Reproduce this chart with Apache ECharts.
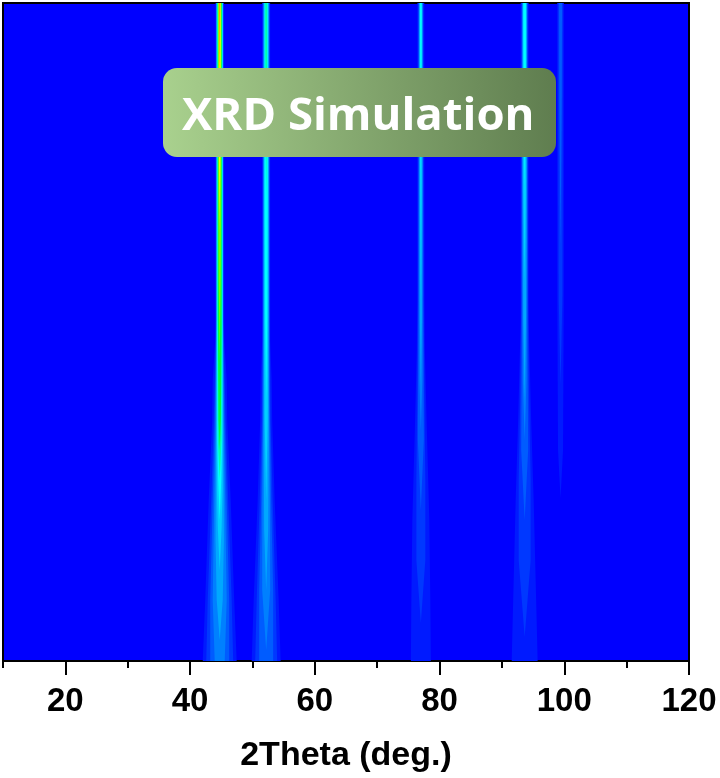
<!DOCTYPE html>
<html>
<head>
<meta charset="utf-8">
<title>XRD Simulation</title>
<style>
  html, body { margin: 0; padding: 0; background: #fff; }
  #main { width: 720px; height: 778px; }
</style>
<script src="https://cdn.jsdelivr.net/npm/echarts@6/dist/echarts.min.js"></script>
</head>
<body>
<div id="main"></div>
<script>
// x axis ticks, 2theta in degrees
var tickValues = ['10', '20', '30', '40', '50', '60', '70', '80', '90', '100', '110', '120'];

// peak positions
var peakCenters = [44.75, 52.2, 77.0, 93.65, 99.4];

// intensity of each contour level, faint to strong
var levels = [0.025, 0.055, 0.09, 0.125, 0.165, 0.205, 0.25, 0.33, 0.44, 0.62, 0.75, 0.87];

// one list per level: [scan row, half width of the contour in deg]
var peak1 = [
    [[0, 2.72], [61, 2.32], [161, 1.76], [241, 1.2], [281, 1.12], [321, 0.72], [658, 0.67]],
    [[0, 2.16], [61, 1.92], [161, 1.36], [241, 0.96], [281, 0.8], [340, 0.61], [658, 0.61]],
    [[0, 1.52], [61, 1.52], [161, 1.12], [241, 0.8], [340, 0.56], [658, 0.56]],
    [[0, 0.8], [61, 1.12], [161, 0.88], [241, 0.67], [340, 0.53], [658, 0.53]],
    [[21, 0], [61, 0.48], [121, 0.67], [211, 0.61], [340, 0.5], [658, 0.5]],
    [[91, 0], [131, 0.29], [171, 0.45], [221, 0.48], [340, 0.46], [658, 0.46]],
    [[141, 0], [181, 0.24], [221, 0.38], [340, 0.42], [658, 0.42]],
    [[181, 0], [221, 0.29], [340, 0.35], [658, 0.37]],
    [[211, 0], [241, 0.19], [340, 0.29], [658, 0.32]],
    [[300, 0], [380, 0.16], [480, 0.24], [658, 0.24]],
    [[431, 0], [521, 0.13], [658, 0.16]],
    [[561, 0], [658, 0.08]]
];
var peak2 = [
    [[0, 2.32], [61, 2], [161, 1.36], [241, 0.96], [281, 0.88], [321, 0.64], [658, 0.64]],
    [[0, 1.76], [61, 1.52], [161, 1.04], [241, 0.72], [321, 0.58], [658, 0.58]],
    [[0, 1.12], [71, 1.12], [161, 0.8], [241, 0.61], [361, 0.5], [658, 0.5]],
    [[11, 0], [71, 0.64], [161, 0.61], [261, 0.45], [658, 0.44]],
    [[71, 0], [131, 0.32], [221, 0.4], [341, 0.38], [658, 0.38]],
    [[161, 0], [241, 0.24], [361, 0.32], [658, 0.32]],
    [[261, 0], [341, 0.16], [481, 0.24], [658, 0.24]],
    [[461, 0], [561, 0.13], [658, 0.16]]
];
var peak3 = [
    [[0, 1.6], [61, 1.52], [141, 1.36], [231, 0.96], [311, 0.64], [361, 0.58], [658, 0.56]],
    [[38, 0], [101, 0.72], [181, 0.72], [261, 0.58], [361, 0.46], [658, 0.44]],
    [[151, 0], [221, 0.48], [361, 0.38], [658, 0.35]],
    [[231, 0], [281, 0.24], [411, 0.29], [658, 0.29]],
    [[276, 0], [341, 0.16], [511, 0.24], [658, 0.24]],
    [[361, 0], [471, 0.13], [658, 0.19]],
    [[481, 0], [591, 0.1], [658, 0.13]]
];
var peak4 = [
    [[0, 2.08], [61, 1.84], [161, 1.44], [241, 1.04], [341, 0.64], [658, 0.64]],
    [[24, 0], [101, 0.96], [181, 0.96], [261, 0.72], [361, 0.54], [658, 0.52]],
    [[141, 0], [211, 0.56], [311, 0.46], [658, 0.44]],
    [[221, 0], [281, 0.29], [411, 0.37], [658, 0.37]],
    [[261, 0], [341, 0.21], [511, 0.32], [658, 0.32]],
    [[380, 0], [471, 0.19], [658, 0.26]],
    [[471, 0], [571, 0.16], [658, 0.2]]
];
var peak5 = [
    [[163, 0], [211, 0.4], [361, 0.51], [658, 0.54]],
    [[276, 0], [361, 0.29], [658, 0.38]],
    [[411, 0], [561, 0.19], [658, 0.24]]
];
var peaks = [peak1, peak2, peak3, peak4, peak5];

// one polygon per contour, weakest first so the strong ones sit on top
var contours = [];
for (var l = 0; l < levels.length; l++) {
    for (var p = 0; p < peaks.length; p++) {
        if (peaks[p][l]) {
            contours.push([p, l, levels[l]]);
        }
    }
}

function renderContour(params, api) {
    var p = api.value(0);
    var l = api.value(1);
    var rows = peaks[p][l];
    var left = [];
    var right = [];
    for (var i = 0; i < rows.length; i++) {
        left.push(api.coord([peakCenters[p] - rows[i][1], rows[i][0]]));
        right.unshift(api.coord([peakCenters[p] + rows[i][1], rows[i][0]]));
    }
    return {
        type: 'polygon',
        shape: { points: left.concat(right) },
        style: { fill: api.visual('color') }
    };
}

var myChart = echarts.init(document.getElementById('main'));

var option = {
    animation: false,
    grid: {
        left: 3,
        top: 3,
        width: 686,
        height: 658,
        outerBoundsMode: 'none',
        show: true,
        backgroundColor: '#0000ff',
        borderColor: '#000',
        borderWidth: 2
    },
    visualMap: {
        show: false,
        dimension: 2,
        seriesIndex: 0,
        min: 0,
        max: 1,
        inRange: { color: ['#0000ff', '#00ffff', '#00ff00', '#ffff00', '#ff0000'] }
    },
    xAxis: [
        {
            type: 'value',
            min: 10,
            max: 120,
            interval: 10,
            name: '2Theta (deg.)',
            nameLocation: 'middle',
            nameGap: 78,
            nameTextStyle: { fontFamily: 'Liberation Sans', fontWeight: 'bold', fontSize: 34, color: '#000' },
            splitLine: { show: false },
            axisLine: { onZero: false, lineStyle: { color: '#000', width: 2 } },
            axisTick: { length: 7, lineStyle: { color: '#000', width: 2 } },
            axisLabel: {
                margin: 24,
                fontFamily: 'Liberation Sans',
                fontWeight: 'bold',
                fontSize: 33,
                color: '#000',
                showMinLabel: true,
                showMaxLabel: true,
                hideOverlap: false,
                formatter: function (v) { return v % 20 === 0 ? String(v) : ''; }
            }
        },
        {
            // only there for the long ticks at every 20 deg
            type: 'category',
            position: 'bottom',
            boundaryGap: false,
            data: tickValues,
            axisLine: { show: false },
            axisLabel: { show: false },
            axisTick: {
                length: 14,
                interval: function (i, v) { return Number(v) % 20 === 0; },
                lineStyle: { color: '#000', width: 2 }
            }
        }
    ],
    yAxis: { type: 'value', min: 0, max: 658, show: false, splitLine: { show: false } },
    series: [{
        type: 'custom',
        xAxisIndex: 0,
        yAxisIndex: 0,
        clip: true,
        silent: true,
        renderItem: renderContour,
        encode: { x: 0, y: 1 },
        data: contours
    }],
    graphic: [{
        type: 'rect',
        left: 163,
        top: 68,
        z: 100,
        shape: { width: 393, height: 89, r: 14 },
        style: {
            fill: new echarts.graphic.LinearGradient(0, 0.65, 1, 0.35, [
                { offset: 0, color: '#a9d18e' },
                { offset: 1, color: '#5f7d4f' }
            ])
        }
    }, {
        type: 'text',
        left: 182,
        top: 94,
        z: 101,
        style: {
            text: 'XRD Simulation',
            fill: '#fff',
            font: 'bold 45.5px "Open Sans"'
        }
    }]
};
myChart.setOption(option);
</script>
</body>
</html>
